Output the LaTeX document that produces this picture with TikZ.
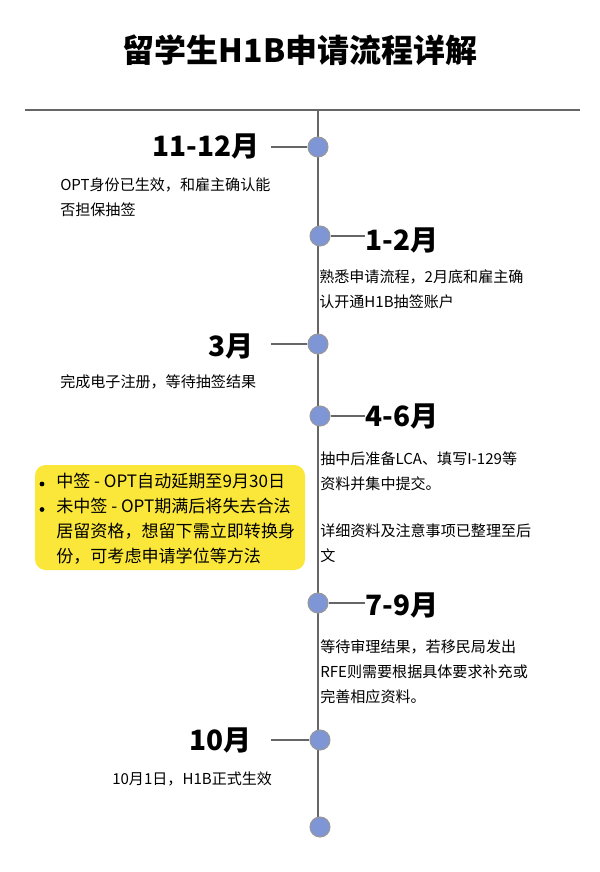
\documentclass[tikz,border=0pt]{standalone}
\usepackage{fontspec}
\setmainfont{Noto Sans CJK SC}
\begin{document}
\begin{tikzpicture}[x=0.75pt,y=-0.75pt,
  dot/.style={circle,draw=gray!80,line width=0.8pt,fill=dotblue,minimum size=15pt,inner sep=0},
  mon/.style={font=\bfseries\fontsize{21}{24}\selectfont,inner sep=0},
  body/.style={font=\fontsize{11.3}{18.8}\selectfont,inner sep=0,align=left,anchor=north west},
  tl/.style={gray!80!black,line width=0.8pt}]
\definecolor{dotblue}{HTML}{7E95D6}
\definecolor{ybox}{HTML}{FBE73A}
\useasboundingbox (0,0) rectangle (600,872);
\fill[white] (0,0) rectangle (600,872);
\node[font=\bfseries\fontsize{24}{28}\selectfont] (title) at (300,50) {留学生H1B申请流程详解};
\coordinate (tl) at (25,110); \coordinate (tr) at (580,110);
\draw[tl] (tl) -- (tr);
\coordinate (vtop) at (318,110); \coordinate (vbot) at (318,828);
\draw[tl] (vtop) -- (vbot);
\node[dot] (d1) at (318,147) {};
\node[dot] (d2) at (320,236) {};
\node[dot] (d3) at (318,344) {};
\node[dot] (d4) at (320,416) {};
\node[dot] (d5) at (318,603) {};
\node[dot] (d6) at (320,740) {};
\node[dot] (d7) at (320,827) {};
\node[mon,anchor=east] (m1) at (260,146) {11-12月};
\node[mon,anchor=west] (m2) at (365,240) {1-2月};
\node[mon,anchor=east] (m3) at (254,346) {3月};
\node[mon,anchor=west] (m4) at (365,416) {4-6月};
\node[mon,anchor=west] (m5) at (365,605) {7-9月};
\node[mon,anchor=east] (m6) at (252,740) {10月};
\draw[tl] (d1.west) -- ++(-36,0) coordinate (a1);
\draw[tl] (d2.east) -- ++(34,0) coordinate (a2);
\draw[tl] (d3.west) -- ++(-36,0) coordinate (a3);
\draw[tl] (d4.east) -- ++(34,0) coordinate (a4);
\draw[tl] (d5.east) -- ++(36,0) coordinate (a5);
\draw[tl] (d6.west) -- ++(-38,0) coordinate (a6);
\node[body] (t1) at (60,177) {OPT身份已生效，和雇主确认能\\否担保抽签};
\node[body] (t2) at (319,269) {熟悉申请流程，2月底和雇主确\\认开通H1B抽签账户};
\node[body] (t3) at (60,374) {完成电子注册，等待抽签结果};
\node[body] (t4) at (320,451) {抽中后准备LCA、填写I-129等\\资料并集中提交。\\[17pt]详细资料及注意事项已整理至后\\文};
\node[body] (t5) at (320,639) {等待审理结果，若移民局发出\\RFE则需要根据具体要求补充或\\完善相应资料。};
\node[body] (t6) at (112,772) {10月1日，H1B正式生效};
\fill[ybox,rounded corners=8pt] (35,465) rectangle (305,570);
\node[body,font=\fontsize{12.8}{18.8}\selectfont] (y1) at (56,473) {中签 - OPT自动延期至9月30日\\未中签 - OPT期满后将失去合法\\居留资格，想留下需立即转换身\\份，可考虑申请学位等方法};
\fill (42,484) circle (2.4);
\fill (42,509.5) circle (2.4);
\end{tikzpicture}
\end{document}
